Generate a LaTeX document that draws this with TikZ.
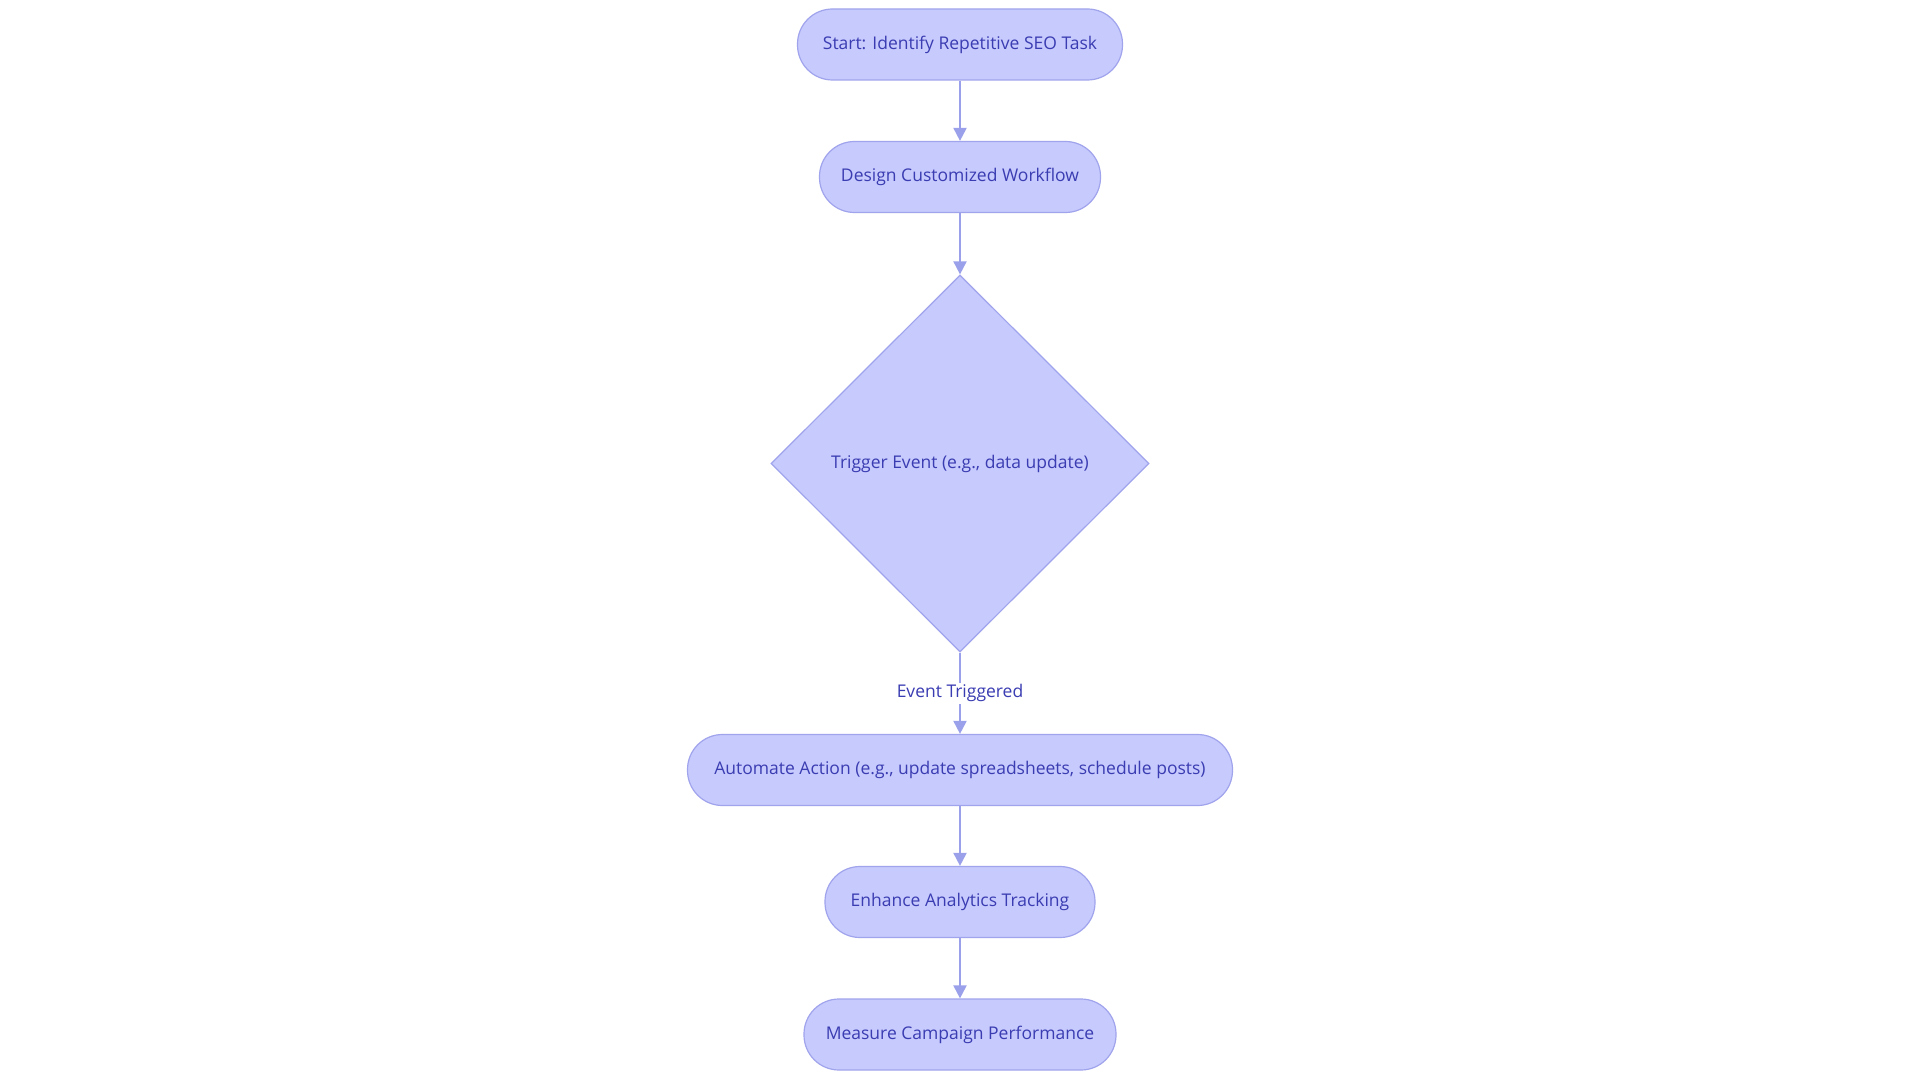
\documentclass[tikz,border=0pt]{standalone}
\usepackage{fontspec}
\setmainfont{Open Sans}
\usetikzlibrary{shapes.geometric,arrows.meta}
\definecolor{nodefill}{RGB}{199,202,252}
\definecolor{nodeborder}{RGB}{160,164,236}
\definecolor{nodetext}{RGB}{58,60,178}
\definecolor{arrowcol}{RGB}{155,160,235}
\begin{document}
\begin{tikzpicture}[x=1pt,y=-1pt,
  pill/.style={draw=nodeborder,fill=nodefill,line width=1.2pt,rounded corners=35pt,
    minimum height=71pt,inner sep=0pt,text=nodetext,font=\fontsize{17.5}{21}\selectfont},
  decision/.style={diamond,draw=nodeborder,fill=nodefill,line width=1.2pt,
    minimum width=378pt,minimum height=377pt,inner sep=0pt,text=nodetext,font=\fontsize{17.5}{21}\selectfont},
  flow/.style={draw=arrowcol,line width=2pt,-{Triangle[width=13pt,length=13pt]}},
  elabel/.style={fill=white,text=nodetext,inner sep=2pt,font=\fontsize{17.5}{21}\selectfont}]
\useasboundingbox[fill=white] (0,0) rectangle (1920,1083);
\node[pill,minimum width=325pt] (start) at (960,44.5) {Start: Identify Repetitive SEO Task};
\node[pill,minimum width=281pt] (design) at (960,177) {Design Customized Workflow};
\node[decision] (trigger) at (960,463.5) {Trigger Event (e.g., data update)};
\node[pill,minimum width=545pt] (auto) at (960,770) {Automate Action (e.g., update spreadsheets, schedule posts)};
\node[pill,minimum width=270pt] (enh) at (960,902) {Enhance Analytics Tracking};
\node[pill,minimum width=312pt] (meas) at (960,1034.5) {Measure Campaign Performance};
\draw[flow] (start) -- (design);
\draw[flow] (design) -- (trigger);
\draw[flow] (trigger) -- node[elabel] (lbl) {Event Triggered} (auto);
\draw[flow] (auto) -- (enh);
\draw[flow] (enh) -- (meas);
\end{tikzpicture}
\end{document}
